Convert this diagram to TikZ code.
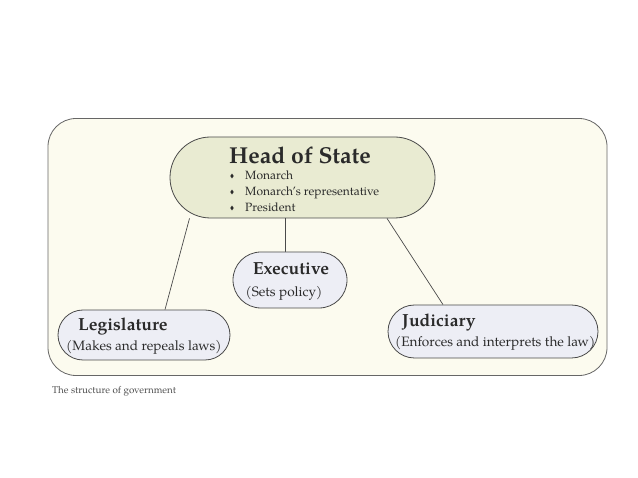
\documentclass[tikz,border=0pt]{standalone}
\usepackage{fontspec}
\setmainfont{TeX Gyre Pagella}
\usetikzlibrary{calc,shapes.geometric}
\definecolor{framefill}{HTML}{FCFBEF}
\definecolor{headfill}{HTML}{E9EBD2}
\definecolor{boxfill}{HTML}{EDEEF5}
\definecolor{linecol}{HTML}{4A4A4A}
\definecolor{framecol}{HTML}{666666}
\definecolor{txt}{HTML}{2A2A2A}
\definecolor{captxt}{HTML}{505050}
\pgfdeclarelayer{bg}
\pgfdeclarelayer{wires}
\pgfsetlayers{bg,wires,main}
\begin{document}
\begin{tikzpicture}[x=1pt,y=-1pt,
  pill/.style={draw=linecol, line width=0.8pt, inner sep=0pt},
  wire/.style={draw=linecol, line width=0.7pt},
  ttl/.style={text=txt, font=\fontsize{17.5}{17.5}\selectfont\bfseries, inner sep=0pt},
  body/.style={text=txt, font=\fontsize{12}{12}\selectfont, inner sep=0pt},
  sub/.style={text=txt, font=\fontsize{13.6}{13.6}\selectfont, inner sep=0pt},
  bul/.style={diamond, fill=txt, inner sep=0pt, minimum width=3.6pt, minimum height=5pt}]
\useasboundingbox (0,0) rectangle (638,478);
\begin{pgfonlayer}{bg}
\fill[white] (0,0) rectangle (638,478);
\node[pill, draw=framecol, fill=framefill, rounded corners=28pt, minimum width=559pt, minimum height=257pt] (frame) at (327.5,247) {};
\end{pgfonlayer}
\node[pill, fill=headfill, rounded corners=40.5pt, minimum width=265pt, minimum height=81pt] (head) at (302.5,177.5) {};
\node[pill, fill=boxfill, rounded corners=28pt, minimum width=114pt, minimum height=56pt] (exec) at (290,280) {};
\node[pill, fill=boxfill, rounded corners=25pt, minimum width=172pt, minimum height=50pt] (leg) at (144,335) {};
\node[pill, fill=boxfill, rounded corners=26.5pt, minimum width=210pt, minimum height=53pt] (jud) at (493,331.5) {};
\begin{pgfonlayer}{wires}
\draw[wire] ([xshift=-113pt]head.south) -- ([xshift=21pt]leg.north);
\draw[wire] ([xshift=-17pt]head.south) -- ([xshift=-17pt]head.south |- exec.north);
\draw[wire] ([xshift=84.5pt]head.south) -- ([xshift=-50pt]jud.north);
\end{pgfonlayer}
% head texts
\node[ttl, font=\fontsize{23}{23}\selectfont\bfseries, anchor=base] (headt) at (300,164) {Head of State};
\node[bul] (b1) at (232,176) {};
\node[bul] (b2) at (232,192) {};
\node[bul] (b3) at (232,208) {};
\node[body, anchor=base west] (h1) at (245,180) {Monarch};
\node[body, anchor=base west] (h2) at (245,196) {Monarch’s representative};
\node[body, anchor=base west] (h3) at (245,212) {President};
% executive
\node[ttl, anchor=base] (exect) at (291,275) {Executive};
\node[sub, anchor=base] (execs) at (284,297) {(Sets policy)};
% legislature
\node[ttl, anchor=base west] (legt) at (78,331) {Legislature};
\node[sub, anchor=base west] (legs) at (66,351) {(Makes and repeals laws)};
% judiciary
\node[ttl, anchor=base west] (judt) at (402,327) {Judiciary};
\node[sub, anchor=base west] (juds) at (395,347) {(Enforces and interprets the law)};
% caption
\node[text=captxt, font=\fontsize{9.8}{9.8}\selectfont, inner sep=0pt, anchor=base west] (cap) at (52,394) {The structure of government};
\end{tikzpicture}
\end{document}
